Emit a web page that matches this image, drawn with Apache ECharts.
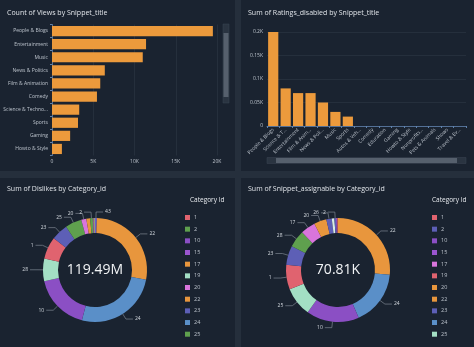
<!DOCTYPE html>
<html><head><meta charset="utf-8">
<script src="https://cdn.jsdelivr.net/npm/echarts@6/dist/echarts.min.js"></script>
<style>html,body{margin:0;padding:0;background:#252f3c;}#c{width:474px;height:347px;}</style>
</head><body><div id="c"></div>
<script>
// ---- data ----
const viewCategories = ['People & Blogs','Entertainment','Music','News & Politics','Film & Animation','Comedy','Science & Techno...','Sports','Gaming','Howto & Style'];
const viewCounts = [19500, 11400, 11000, 6400, 5850, 5450, 3300, 3150, 2200, 1200];

const ratingCategories = ['People & Blogs','Science & T...','Entertainment','Film & Anim...','News & Poli...','Music','Sports','Autos & Veh...','Comedy','Education','Gaming','Howto & Style','Nonprofits...','Pets & Animals','Shows','Travel & Ev...'];
const ratingsDisabled = [200, 80, 70, 70, 50, 30, 20, 0, 0, 0, 0, 0, 0, 0, 0, 0];

const dislikeIds = ['43','22','24','10','28','1','23','25','20','26','2','15','17','19'];
const dislikeValues = [700000, 32790000, 31100000, 20900000, 8400000, 8200000, 6200000, 6100000, 1900000, 1400000, 1000000, 300000, 300000, 200000];

const assignIds = ['22','24','10','25','1','23','28','17','20','26','27','2','15','19','43'];
const assignValues = [18760, 12040, 11610, 6440, 5380, 4250, 3750, 3260, 2760, 1200, 570, 350, 200, 150, 90];

const legendIds = ['1','2','10','15','17','19','20','22','23','24','25'];

const dislikeColors = {'1':'#e0636f','2':'#5fa04e','10':'#8b4fc4','15':'#9a55cf','17':'#e8963d','19':'#a3dfc4','20':'#d975dc','22':'#e8963d','23':'#5d5fb6','24':'#5a8fc8','25':'#5fa04e','26':'#e8963d','28':'#a3dfc4','43':'#6a5fd0'};
const assignColors = {'1':'#e0636f','2':'#5d5fb6','10':'#8b4fc4','15':'#9a55cf','17':'#d975dc','19':'#e0636f','20':'#e8963d','22':'#e8963d','23':'#5d5fb6','24':'#5a8fc8','25':'#a3dfc4','26':'#5d5fb6','27':'#d8ece4','28':'#5fa04e','43':'#e0636f'};

// ---- helpers ----
const FONT = 'Open Sans';
const LABEL = '#bcc3cc';
const AXIS = '#5f82ad';
const SPLIT = '#2b3542';
const fmtK = v => v === 0 ? '0' : (v / 1000) + 'K';
const fmtTotal = t => t >= 1e6 ? (t / 1e6).toFixed(2) + 'M' : (t / 1e3).toFixed(2) + 'K';
const sum = a => a.reduce((x, y) => x + y, 0);
function pieData(ids, vals, colors) {
  const total = sum(vals);
  return ids.map((id, i) => {
    const show = vals[i] / total >= 0.004;
    return {name: id, value: vals[i], itemStyle: {color: colors[id]}, label: {show}, labelLine: {show}};
  });
}
function legendData(colors) { return legendIds.map(id => ({name: id, itemStyle: {color: colors[id]}})); }

const PANEL = '#1a2330';
const chart = echarts.init(document.getElementById('c'), null, {renderer: 'canvas', width: 474, height: 347});

const pieCommon = {
  type: 'pie', radius: [37, 52], startAngle: 90, clockwise: true, avoidLabelOverlap: false,
  label: {fontSize: 5, color: '#d3d8de', fontFamily: FONT, distanceToLabelLine: 2},
  labelLine: {length: 6, length2: 7, lineStyle: {color: '#7d8591', width: 0.7}},
  itemStyle: {borderWidth: 0},
  emphasis: {disabled: true}
};

chart.setOption({
  backgroundColor: '#252f3c',
  animation: false,
  textStyle: {fontFamily: FONT},
  graphic: [
    {type: 'rect', shape: {x: 0, y: 0, width: 235, height: 171}, style: {fill: PANEL}, silent: true},
    {type: 'rect', shape: {x: 241, y: 0, width: 233, height: 171}, style: {fill: PANEL}, silent: true},
    {type: 'rect', shape: {x: 0, y: 178, width: 235, height: 169}, style: {fill: PANEL}, silent: true},
    {type: 'rect', shape: {x: 241, y: 178, width: 233, height: 169}, style: {fill: PANEL}, silent: true},
    // vertical scrollbar (panel 1)
    {type: 'rect', shape: {x: 223, y: 24, width: 6, height: 79}, style: {fill: '#2a3441', stroke: '#3a4553', lineWidth: 0.5}, silent: true},
    {type: 'rect', shape: {x: 223.5, y: 33, width: 5, height: 64}, style: {fill: '#56606d'}, silent: true},
    // horizontal scrollbar (panel 2)
    {type: 'rect', shape: {x: 267, y: 157.5, width: 199, height: 6}, style: {fill: '#2a3441', stroke: '#3a4553', lineWidth: 0.5}, silent: true},
    {type: 'rect', shape: {x: 276, y: 158, width: 181, height: 5}, style: {fill: '#56606d'}, silent: true},
    // donut centre totals
    {type: 'text', x: 95, y: 270, style: {text: fmtTotal(sum(dislikeValues)), fill: '#f2f4f6', fontSize: 14, fontFamily: FONT, align: 'center', verticalAlign: 'middle'}, silent: true},
    {type: 'text', x: 338, y: 270, style: {text: fmtTotal(sum(assignValues)), fill: '#f2f4f6', fontSize: 14, fontFamily: FONT, align: 'center', verticalAlign: 'middle'}, silent: true}
  ],
  title: [
    {text: 'Count of Views by Snippet_title', left: 7, top: 9, padding: 0, textStyle: {fontSize: 7, fontWeight: 'normal', color: '#dfe3e8', fontFamily: FONT}},
    {text: 'Sum of Ratings_disabled by Snippet_title', left: 248, top: 9, padding: 0, textStyle: {fontSize: 7, fontWeight: 'normal', color: '#dfe3e8', fontFamily: FONT}},
    {text: 'Sum of Dislikes by Category_id', left: 7, top: 185, padding: 0, textStyle: {fontSize: 7, fontWeight: 'normal', color: '#dfe3e8', fontFamily: FONT}},
    {text: 'Sum of Snippet_assignable by Category_id', left: 248, top: 185, padding: 0, textStyle: {fontSize: 7, fontWeight: 'normal', color: '#dfe3e8', fontFamily: FONT}},
    {text: 'Category Id', left: 190, top: 197, padding: 0, textStyle: {fontSize: 6.5, fontWeight: 'normal', color: '#e6e9ed', fontFamily: FONT}},
    {text: 'Category Id', left: 432, top: 197, padding: 0, textStyle: {fontSize: 6.5, fontWeight: 'normal', color: '#e6e9ed', fontFamily: FONT}}
  ],
  legend: [
    {orient: 'vertical', left: 185, top: 214.5, padding: 0, itemWidth: 5, itemHeight: 5, itemGap: 5.67, icon: 'rect',
     selectedMode: false, textStyle: {fontSize: 5.5, lineHeight: 6, color: LABEL, fontFamily: FONT, padding: [0, 0, 0, -1]},
     data: legendData(dislikeColors)},
    {orient: 'vertical', left: 432, top: 214.5, padding: 0, itemWidth: 5, itemHeight: 5, itemGap: 5.67, icon: 'rect',
     selectedMode: false, textStyle: {fontSize: 5.5, lineHeight: 6, color: LABEL, fontFamily: FONT, padding: [0, 0, 0, -1]},
     data: legendData(assignColors)}
  ],
  grid: [
    {left: 52, top: 24.5, width: 165, height: 131, containLabel: false, outerBoundsMode: 'none'},
    {left: 267, top: 32, width: 199, height: 94, containLabel: false, outerBoundsMode: 'none'}
  ],
  xAxis: [
    {gridIndex: 0, type: 'value', min: 0, max: 20000, interval: 5000,
     axisLine: {show: false}, axisTick: {show: false},
     axisLabel: {formatter: fmtK, fontSize: 5, color: LABEL, margin: 4, fontFamily: FONT},
     splitLine: {lineStyle: {color: SPLIT, width: 0.7}}},
    {gridIndex: 1, type: 'category', data: ratingCategories,
     axisLine: {lineStyle: {color: AXIS, width: 0.8}},
     axisTick: {show: true, length: 2, lineStyle: {color: AXIS}},
     axisLabel: {rotate: 45, interval: 0, fontSize: 5, color: LABEL, margin: 3, fontFamily: FONT},
     splitLine: {show: false}}
  ],
  yAxis: [
    {gridIndex: 0, type: 'category', data: viewCategories, inverse: true,
     axisLine: {lineStyle: {color: AXIS, width: 0.8}},
     axisTick: {show: true, length: 2, lineStyle: {color: AXIS}},
     axisLabel: {fontSize: 5, color: LABEL, margin: 4, fontFamily: FONT},
     splitLine: {show: false}},
    {gridIndex: 1, type: 'value', min: 0, max: 200, interval: 50,
     axisLine: {show: false}, axisTick: {show: false},
     axisLabel: {formatter: fmtK, fontSize: 5, color: LABEL, margin: 4, fontFamily: FONT},
     splitLine: {lineStyle: {color: SPLIT, width: 0.7}}}
  ],
  series: [
    {type: 'bar', xAxisIndex: 0, yAxisIndex: 0, data: viewCounts, barCategoryGap: '22%',
     itemStyle: {color: '#ec9a3c'}, emphasis: {disabled: true}},
    {type: 'bar', xAxisIndex: 1, yAxisIndex: 1, data: ratingsDisabled, barCategoryGap: '18%',
     itemStyle: {color: '#ec9a3c'}, emphasis: {disabled: true}},
    Object.assign({}, pieCommon, {center: [95, 270], data: pieData(dislikeIds, dislikeValues, dislikeColors)}),
    Object.assign({}, pieCommon, {center: [338, 270], data: pieData(assignIds, assignValues, assignColors)})
  ]
});
</script></body></html>
